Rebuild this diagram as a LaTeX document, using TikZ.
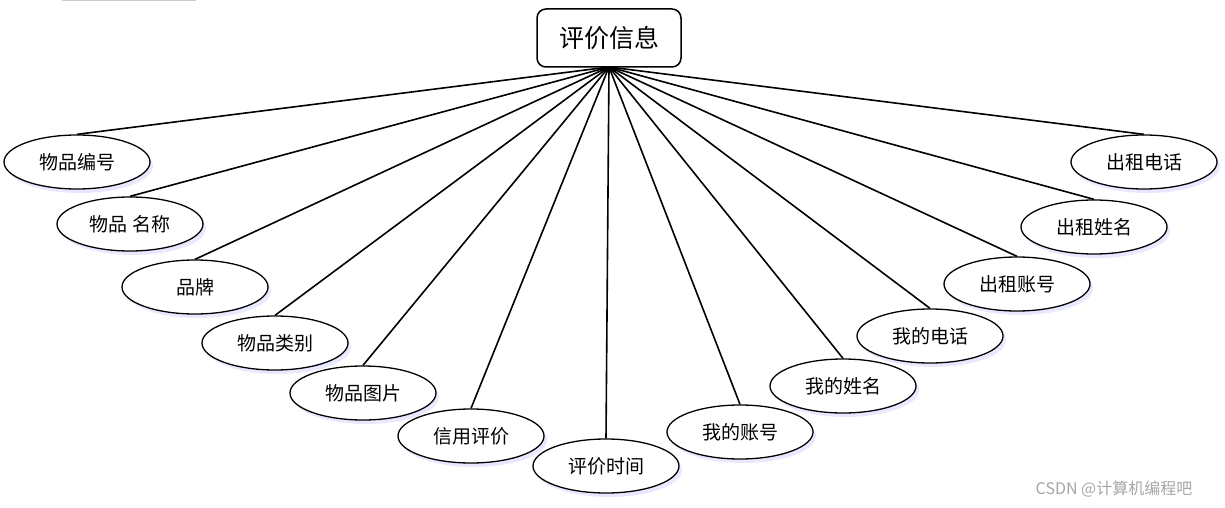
\documentclass[tikz,border=0pt]{standalone}
\usepackage{fontspec}
\newfontfamily\cjk{Noto Sans CJK SC}
\usetikzlibrary{shapes.geometric,shadows}
\begin{document}
\begin{tikzpicture}[x=1pt,y=-1pt,
  attr/.style={ellipse,draw,line width=1.3pt,fill=white,minimum width=146pt,minimum height=54pt,inner sep=0pt,
    font=\cjk\fontsize{19}{22}\selectfont,drop shadow={shadow xshift=3pt,shadow yshift=-4pt,fill=blue!15,opacity=0.6}},
  conn/.style={line width=1.6pt}]
\useasboundingbox (0,0) rectangle (1225,508);
\draw[gray!40,line width=1pt] (62,1) -- (196,1);
\node[draw,rounded corners=9pt,line width=1.5pt,minimum width=144pt,minimum height=58pt,font=\cjk\fontsize{25}{28}\selectfont] (root) at (609,38) {评价信息};
\coordinate (hub) at (609,67);
\node[attr] (a1) at (77,162) {物品编号};
\node[attr] (a2) at (130,224) {物品 名称};
\node[attr] (a3) at (195,287) {品牌};
\node[attr] (a4) at (275,343) {物品类别};
\node[attr] (a5) at (363,393) {物品图片};
\node[attr] (a6) at (471,436) {信用评价};
\node[attr] (a7) at (606,466) {评价时间};
\node[attr] (a8) at (740,432) {我的账号};
\node[attr] (a9) at (843,386) {我的姓名};
\node[attr] (a10) at (930,336) {我的电话};
\node[attr] (a11) at (1017,284) {出租账号};
\node[attr] (a12) at (1094,227) {出租姓名};
\node[attr] (a13) at (1144,162) {出租电话};
\foreach \i in {1,...,13} \draw[conn] (hub) -- (a\i.north);
\node[font=\fontsize{16}{18}\selectfont\cjk,text=gray!70] (wm) at (1114,489) {CSDN @计算机编程吧};
\end{tikzpicture}
\end{document}
